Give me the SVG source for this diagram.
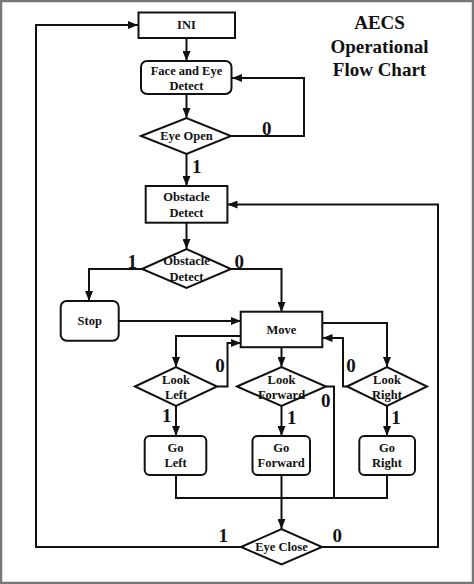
<svg xmlns="http://www.w3.org/2000/svg" width="474" height="584" viewBox="0 0 474 584">
<defs>
<marker id="arr" markerUnits="userSpaceOnUse" markerWidth="10" markerHeight="8" refX="10" refY="4" orient="auto">
<path d="M0,0 L10,4 L0,8 Z" fill="#111"/>
</marker>
</defs>
<style>
.n{fill:#fff;stroke:#111;stroke-width:2}
.t{font-family:"Liberation Serif","Times New Roman",serif;font-weight:bold;font-size:12.5px;fill:#111;text-anchor:middle}
.lb{font-family:"Liberation Serif","Times New Roman",serif;font-weight:bold;font-size:19px;fill:#111;text-anchor:middle}
.c{fill:none;stroke:#111;stroke-width:2}
.a{marker-end:url(#arr)}
</style>
<rect x="0" y="0" width="474" height="584" fill="#fff"/>
<rect x="1" y="1" width="472" height="582" fill="none" stroke="#777" stroke-width="2.5"/>
<g id="title">
<text class="lb" x="379.5" y="29.3">AECS</text>
<text class="lb" x="379.5" y="52.7">Operational</text>
<text class="lb" x="379.5" y="76">Flow Chart</text>
</g>
<g id="connectors">
<path class="c a" d="M186.5,38 V61"/>
<path class="c a" d="M186.5,94 V118"/>
<path class="c a" d="M231,136 H304 V78 H232"/>
<path class="c a" d="M186.5,154 V186"/>
<path class="c a" d="M186.5,223 V249"/>
<path class="c a" d="M142,269 H89 V301"/>
<path class="c a" d="M231,269 H281.5 V312"/>
<path class="c a" d="M119,321 H241"/>
<path class="c a" d="M241,336 H176 V367"/>
<path class="c a" d="M217,386.5 H227.5 V343 H241"/>
<path class="c a" d="M281.5,347 V367"/>
<path class="c a" d="M322,323 H387 V367"/>
<path class="c a" d="M347,386.5 H343 V338 H322.5"/>
<path class="c" d="M326,386.5 H334 V498"/>
<path class="c a" d="M176,406 V436"/>
<path class="c a" d="M281.5,406 V436"/>
<path class="c a" d="M387,406 V436"/>
<path class="c" d="M176,475 V498 H387 V475"/>
<path class="c a" d="M281.5,475 V529"/>
<path class="c a" d="M241,547 H36 V25 H138"/>
<path class="c a" d="M322,547 H438 V204.5 H227.5"/>
</g>
<g id="labels">
<text class="lb" x="266.7" y="134.5">0</text>
<text class="lb" x="196.7" y="173">1</text>
<text class="lb" x="132.3" y="267.5">1</text>
<text class="lb" x="239.3" y="267.5">0</text>
<text class="lb" x="220" y="372">0</text>
<text class="lb" x="351" y="372">0</text>
<text class="lb" x="325.7" y="407">0</text>
<text class="lb" x="166.7" y="421.5">1</text>
<text class="lb" x="291.7" y="423.5">1</text>
<text class="lb" x="396" y="423.5">1</text>
<text class="lb" x="223.3" y="542">1</text>
<text class="lb" x="337.3" y="542">0</text>
</g>
<g id="ini">
<rect class="n" x="138.5" y="12.5" width="96.5" height="25.5"/>
<text class="t" x="186.5" y="29.3">INI</text>
</g>
<g id="face">
<rect class="n" x="141" y="61" width="90.5" height="33" rx="6"/>
<text class="t" x="186.5" y="75">Face and Eye</text>
<text class="t" x="186.5" y="89.5">Detect</text>
</g>
<g id="eyeopen">
<polygon class="n" points="141,136 186.5,118 231,136 186.5,154"/>
<text class="t" x="186.5" y="140.3">Eye Open</text>
</g>
<g id="obstacle">
<rect class="n" x="145.7" y="186" width="81.7" height="36.7"/>
<text class="t" x="186.5" y="201">Obstacle</text>
<text class="t" x="186.5" y="216.5">Detect</text>
</g>
<g id="obstacledec">
<polygon class="n" points="142,269 186.5,249 231,269 186.5,288"/>
<text class="t" x="186.5" y="265.3">Obstacle</text>
<text class="t" x="186.5" y="281">Detect</text>
</g>
<g id="stop">
<rect class="n" x="60.7" y="301" width="58" height="39.7" rx="6"/>
<text class="t" x="89.7" y="325.3">Stop</text>
</g>
<g id="move">
<rect class="n" x="240.7" y="311.7" width="81.6" height="35.5"/>
<text class="t" x="281.5" y="333.5">Move</text>
</g>
<g id="lookleft">
<polygon class="n" points="135,386.5 176,367 217,386.5 176,406"/>
<text class="t" x="176" y="383.5">Look</text>
<text class="t" x="176" y="398.5">Left</text>
</g>
<g id="lookforward">
<polygon class="n" points="237,386.5 281.5,367 326,386.5 281.5,406"/>
<text class="t" x="281.5" y="383.5">Look</text>
<text class="t" x="281.5" y="398.5">Forward</text>
</g>
<g id="lookright">
<polygon class="n" points="347,386.5 387,367 427,386.5 387,406"/>
<text class="t" x="387" y="383.5">Look</text>
<text class="t" x="387" y="398.5">Right</text>
</g>
<g id="goleft">
<rect class="n" x="144.7" y="436" width="61.6" height="39" rx="5"/>
<text class="t" x="175.5" y="452">Go</text>
<text class="t" x="175.5" y="467">Left</text>
</g>
<g id="goforward">
<rect class="n" x="252.5" y="436" width="57.5" height="39" rx="5"/>
<text class="t" x="281.2" y="452">Go</text>
<text class="t" x="281.2" y="467">Forward</text>
</g>
<g id="goright">
<rect class="n" x="359.3" y="436" width="55.7" height="39" rx="5"/>
<text class="t" x="387" y="452">Go</text>
<text class="t" x="387" y="467">Right</text>
</g>
<g id="eyeclose">
<polygon class="n" points="241,547 281.5,529 322,547 281.5,564.5"/>
<text class="t" x="281.5" y="551">Eye Close</text>
</g>
</svg>
